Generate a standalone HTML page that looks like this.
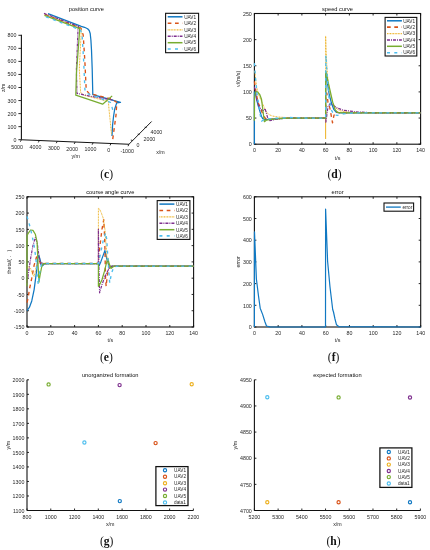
<!DOCTYPE html>
<html><head><meta charset="utf-8"><title>figure</title>
<style>
html,body{margin:0;padding:0;background:#fff;}
body{width:430px;height:550px;overflow:hidden;}
svg{display:block;font-family:"Liberation Sans","DejaVu Sans",sans-serif;}
.cap{font-family:"Liberation Serif","DejaVu Serif",serif;}
</style></head><body>
<svg width="430" height="550" viewBox="0 0 430 550">
<rect width="430" height="550" fill="#fff"/>
<line x1="21.40" y1="34.80" x2="21.40" y2="139.70" stroke="#111" stroke-width="1.1" />
<line x1="21.40" y1="139.70" x2="18.40" y2="139.70" stroke="#111" stroke-width="0.9" />
<text x="16.40" y="142" font-size="5.3" text-anchor="end" fill="#262626" >0</text>
<line x1="21.40" y1="126.65" x2="18.40" y2="126.65" stroke="#111" stroke-width="0.9" />
<text x="16.40" y="129" font-size="5.3" text-anchor="end" fill="#262626" >100</text>
<line x1="21.40" y1="113.60" x2="18.40" y2="113.60" stroke="#111" stroke-width="0.9" />
<text x="16.40" y="116" font-size="5.3" text-anchor="end" fill="#262626" >200</text>
<line x1="21.40" y1="100.55" x2="18.40" y2="100.55" stroke="#111" stroke-width="0.9" />
<text x="16.40" y="103" font-size="5.3" text-anchor="end" fill="#262626" >300</text>
<line x1="21.40" y1="87.50" x2="18.40" y2="87.50" stroke="#111" stroke-width="0.9" />
<text x="16.40" y="89" font-size="5.3" text-anchor="end" fill="#262626" >400</text>
<line x1="21.40" y1="74.45" x2="18.40" y2="74.45" stroke="#111" stroke-width="0.9" />
<text x="16.40" y="76" font-size="5.3" text-anchor="end" fill="#262626" >500</text>
<line x1="21.40" y1="61.40" x2="18.40" y2="61.40" stroke="#111" stroke-width="0.9" />
<text x="16.40" y="63" font-size="5.3" text-anchor="end" fill="#262626" >600</text>
<line x1="21.40" y1="48.35" x2="18.40" y2="48.35" stroke="#111" stroke-width="0.9" />
<text x="16.40" y="50" font-size="5.3" text-anchor="end" fill="#262626" >700</text>
<line x1="21.40" y1="35.30" x2="18.40" y2="35.30" stroke="#111" stroke-width="0.9" />
<text x="16.40" y="37" font-size="5.3" text-anchor="end" fill="#262626" >800</text>
<line x1="21.40" y1="139.70" x2="129.00" y2="144.20" stroke="#111" stroke-width="1.1" />
<line x1="21.40" y1="139.70" x2="20.40" y2="141.70" stroke="#111" stroke-width="0.9" />
<text x="17.10" y="149" font-size="5.3" text-anchor="middle" fill="#262626" >5000</text>
<line x1="39.33" y1="140.45" x2="38.33" y2="142.45" stroke="#111" stroke-width="0.9" />
<text x="35.45" y="149" font-size="5.3" text-anchor="middle" fill="#262626" >4000</text>
<line x1="57.27" y1="141.20" x2="56.27" y2="143.20" stroke="#111" stroke-width="0.9" />
<text x="53.80" y="150" font-size="5.3" text-anchor="middle" fill="#262626" >3000</text>
<line x1="75.20" y1="141.95" x2="74.20" y2="143.95" stroke="#111" stroke-width="0.9" />
<text x="72.15" y="151" font-size="5.3" text-anchor="middle" fill="#262626" >2000</text>
<line x1="93.13" y1="142.70" x2="92.13" y2="144.70" stroke="#111" stroke-width="0.9" />
<text x="90.50" y="151" font-size="5.3" text-anchor="middle" fill="#262626" >1000</text>
<line x1="111.07" y1="143.45" x2="110.07" y2="145.45" stroke="#111" stroke-width="0.9" />
<text x="108.85" y="152" font-size="5.3" text-anchor="middle" fill="#262626" >0</text>
<line x1="129.00" y1="144.20" x2="128.00" y2="146.20" stroke="#111" stroke-width="0.9" />
<text x="127.20" y="153" font-size="5.3" text-anchor="middle" fill="#262626" >-1000</text>
<line x1="129.00" y1="144.20" x2="151.60" y2="121.50" stroke="#111" stroke-width="0.95" />
<line x1="132.60" y1="140.40" x2="130.80" y2="140.10" stroke="#111" stroke-width="0.9" />
<text x="136.60" y="147" font-size="5.3" text-anchor="start" fill="#262626" >0</text>
<line x1="139.50" y1="134.40" x2="137.70" y2="134.10" stroke="#111" stroke-width="0.9" />
<text x="143.50" y="141" font-size="5.3" text-anchor="start" fill="#262626" >2000</text>
<line x1="146.50" y1="127.50" x2="144.70" y2="127.20" stroke="#111" stroke-width="0.9" />
<text x="150.50" y="134" font-size="5.3" text-anchor="start" fill="#262626" >4000</text>
<text x="75.70" y="158" font-size="5.3" text-anchor="middle" fill="#262626" >y/m</text>
<text x="160.50" y="154" font-size="5.3" text-anchor="middle" fill="#262626" >x/m</text>
<text transform="translate(4.9,87.8) rotate(-90)" font-size="5.3" text-anchor="middle" fill="#262626">z/m</text>
<text x="86.30" y="11" font-size="5.7" text-anchor="middle" fill="#111" >position curve</text>
<polyline points="48.00,13.60 81.30,26.30 84.50,27.30 87.60,28.80 89.20,30.50 90.20,33.50 90.90,40.00 91.50,50.00 92.20,69.00 92.80,94.60 120.50,102.30 116.70,102.90 114.80,108.70 113.60,116.00 112.60,124.90 112.00,136.00" fill="none" stroke="#1078C2" stroke-width="1.25"  stroke-linejoin="round" />
<polyline points="45.00,14.50 81.00,28.10 83.20,35.00 84.80,60.00 86.20,90.00 89.00,93.40 112.20,99.20 116.80,102.50 116.00,115.10 112.70,139.50" fill="none" stroke="#D95319" stroke-width="1.35" stroke-dasharray="3.7 3.6" stroke-linejoin="round" />
<polyline points="44.50,14.80 80.80,28.50 81.30,30.50 79.30,69.00 80.60,92.40 84.00,95.20 108.40,101.60 109.00,109.30 111.60,134.70" fill="none" stroke="#EDB120" stroke-width="1.0" stroke-dasharray="0.9 0.65" stroke-linejoin="round" />
<polyline points="44.00,13.40 78.60,26.50 78.00,29.80 76.40,69.00 77.00,93.30 90.00,96.20 112.80,100.00" fill="none" stroke="#7E2F8E" stroke-width="1.2" stroke-dasharray="3.0 1.0 1.0 1.0" stroke-linejoin="round" />
<polyline points="44.50,15.40 79.60,28.70 79.60,31.00 76.40,74.00 75.80,95.20 102.60,104.20 112.20,95.90" fill="none" stroke="#77AC30" stroke-width="1.25"  stroke-linejoin="round" />
<polyline points="46.00,16.90 80.50,29.90 82.10,35.00 83.60,60.00 84.90,89.50 86.00,93.00 110.30,102.30 111.60,105.50 113.00,111.00" fill="none" stroke="#4DBEEE" stroke-width="1.35" stroke-dasharray="3.0 4.3" stroke-linejoin="round" />
<rect x="165.60" y="13.30" width="33.00" height="39.40" fill="#fff" stroke="#111" stroke-width="1.1"/>
<polyline points="167.70,16.80 182.50,16.80" fill="none" stroke="#1078C2" stroke-width="1.5"  stroke-linejoin="round" />
<text x="184.20" y="19" font-size="4.7" text-anchor="start" fill="#262626" >UAV1</text>
<polyline points="167.70,23.30 182.50,23.30" fill="none" stroke="#D95319" stroke-width="1.6" stroke-dasharray="3.7 3.6" stroke-linejoin="round" />
<text x="184.20" y="25" font-size="4.7" text-anchor="start" fill="#262626" >UAV2</text>
<polyline points="167.70,29.80 182.50,29.80" fill="none" stroke="#EDB120" stroke-width="1.25" stroke-dasharray="0.9 0.65" stroke-linejoin="round" />
<text x="184.20" y="32" font-size="4.7" text-anchor="start" fill="#262626" >UAV3</text>
<polyline points="167.70,36.30 182.50,36.30" fill="none" stroke="#7E2F8E" stroke-width="1.45" stroke-dasharray="3.0 1.0 1.0 1.0" stroke-linejoin="round" />
<text x="184.20" y="38" font-size="4.7" text-anchor="start" fill="#262626" >UAV4</text>
<polyline points="167.70,42.70 182.50,42.70" fill="none" stroke="#77AC30" stroke-width="1.5"  stroke-linejoin="round" />
<text x="184.20" y="44" font-size="4.7" text-anchor="start" fill="#262626" >UAV5</text>
<polyline points="167.70,49.00 182.50,49.00" fill="none" stroke="#4DBEEE" stroke-width="1.6" stroke-dasharray="3.0 4.3" stroke-linejoin="round" />
<text x="184.20" y="51" font-size="4.7" text-anchor="start" fill="#262626" >UAV6</text>
<text x="106.70" y="178.40" font-size="11.6" text-anchor="middle" fill="#111" class="cap">(<tspan font-weight="bold">c</tspan>)</text>
<rect x="254.40" y="13.50" width="166.20" height="130.70" fill="none" stroke="#111" stroke-width="1.1"/>
<line x1="254.40" y1="144.20" x2="254.40" y2="142.20" stroke="#111" stroke-width="0.9" />
<line x1="254.40" y1="13.50" x2="254.40" y2="15.50" stroke="#111" stroke-width="0.9" />
<text x="254.40" y="152" font-size="5.3" text-anchor="middle" fill="#262626" >0</text>
<line x1="278.14" y1="144.20" x2="278.14" y2="142.20" stroke="#111" stroke-width="0.9" />
<line x1="278.14" y1="13.50" x2="278.14" y2="15.50" stroke="#111" stroke-width="0.9" />
<text x="278.14" y="152" font-size="5.3" text-anchor="middle" fill="#262626" >20</text>
<line x1="301.89" y1="144.20" x2="301.89" y2="142.20" stroke="#111" stroke-width="0.9" />
<line x1="301.89" y1="13.50" x2="301.89" y2="15.50" stroke="#111" stroke-width="0.9" />
<text x="301.89" y="152" font-size="5.3" text-anchor="middle" fill="#262626" >40</text>
<line x1="325.63" y1="144.20" x2="325.63" y2="142.20" stroke="#111" stroke-width="0.9" />
<line x1="325.63" y1="13.50" x2="325.63" y2="15.50" stroke="#111" stroke-width="0.9" />
<text x="325.63" y="152" font-size="5.3" text-anchor="middle" fill="#262626" >60</text>
<line x1="349.37" y1="144.20" x2="349.37" y2="142.20" stroke="#111" stroke-width="0.9" />
<line x1="349.37" y1="13.50" x2="349.37" y2="15.50" stroke="#111" stroke-width="0.9" />
<text x="349.37" y="152" font-size="5.3" text-anchor="middle" fill="#262626" >80</text>
<line x1="373.11" y1="144.20" x2="373.11" y2="142.20" stroke="#111" stroke-width="0.9" />
<line x1="373.11" y1="13.50" x2="373.11" y2="15.50" stroke="#111" stroke-width="0.9" />
<text x="373.11" y="152" font-size="5.3" text-anchor="middle" fill="#262626" >100</text>
<line x1="396.86" y1="144.20" x2="396.86" y2="142.20" stroke="#111" stroke-width="0.9" />
<line x1="396.86" y1="13.50" x2="396.86" y2="15.50" stroke="#111" stroke-width="0.9" />
<text x="396.86" y="152" font-size="5.3" text-anchor="middle" fill="#262626" >120</text>
<line x1="420.60" y1="144.20" x2="420.60" y2="142.20" stroke="#111" stroke-width="0.9" />
<line x1="420.60" y1="13.50" x2="420.60" y2="15.50" stroke="#111" stroke-width="0.9" />
<text x="420.60" y="152" font-size="5.3" text-anchor="middle" fill="#262626" >140</text>
<line x1="254.40" y1="144.20" x2="256.40" y2="144.20" stroke="#111" stroke-width="0.9" />
<line x1="420.60" y1="144.20" x2="418.60" y2="144.20" stroke="#111" stroke-width="0.9" />
<text x="251.80" y="146" font-size="5.3" text-anchor="end" fill="#262626" >0</text>
<line x1="254.40" y1="118.06" x2="256.40" y2="118.06" stroke="#111" stroke-width="0.9" />
<line x1="420.60" y1="118.06" x2="418.60" y2="118.06" stroke="#111" stroke-width="0.9" />
<text x="251.80" y="120" font-size="5.3" text-anchor="end" fill="#262626" >50</text>
<line x1="254.40" y1="91.92" x2="256.40" y2="91.92" stroke="#111" stroke-width="0.9" />
<line x1="420.60" y1="91.92" x2="418.60" y2="91.92" stroke="#111" stroke-width="0.9" />
<text x="251.80" y="94" font-size="5.3" text-anchor="end" fill="#262626" >100</text>
<line x1="254.40" y1="65.78" x2="256.40" y2="65.78" stroke="#111" stroke-width="0.9" />
<line x1="420.60" y1="65.78" x2="418.60" y2="65.78" stroke="#111" stroke-width="0.9" />
<text x="251.80" y="68" font-size="5.3" text-anchor="end" fill="#262626" >150</text>
<line x1="254.40" y1="39.64" x2="256.40" y2="39.64" stroke="#111" stroke-width="0.9" />
<line x1="420.60" y1="39.64" x2="418.60" y2="39.64" stroke="#111" stroke-width="0.9" />
<text x="251.80" y="42" font-size="5.3" text-anchor="end" fill="#262626" >200</text>
<line x1="254.40" y1="13.50" x2="256.40" y2="13.50" stroke="#111" stroke-width="0.9" />
<line x1="420.60" y1="13.50" x2="418.60" y2="13.50" stroke="#111" stroke-width="0.9" />
<text x="251.80" y="16" font-size="5.3" text-anchor="end" fill="#262626" >250</text>
<text x="337.50" y="160" font-size="5.3" text-anchor="middle" fill="#262626" >t/s</text>
<text x="337.50" y="11" font-size="5.7" text-anchor="middle" fill="#111" >speed curve</text>
<text transform="translate(240.20,78.85) rotate(-90)" font-size="5.3" text-anchor="middle" fill="#262626">v/(m/s)</text>
<polyline points="254.40,144.20 254.40,91.92 255.59,94.53 256.77,99.76 257.96,104.99 259.15,108.65 260.34,112.83 261.52,116.49 262.71,118.58 264.49,119.63 268.65,119.37 278.14,118.58 290.01,118.06 325.63,118.06 325.75,73.62 326.82,78.85 328.00,86.69 329.19,94.53 331.56,103.42 333.94,109.70 336.31,112.31 339.87,112.83 420.60,112.83" fill="none" stroke="#1078C2" stroke-width="1.25"  stroke-linejoin="round" />
<line x1="325.63" y1="138.97" x2="325.63" y2="81.46" stroke="#EDB120" stroke-width="1.0"/>
<polyline points="254.40,81.46 255.59,89.31 256.77,96.10 257.96,102.38 260.34,107.60 262.71,113.88 265.08,118.06 267.46,120.15 271.02,119.37 278.14,118.58 290.01,118.06 325.63,118.06 325.87,94.53 326.82,92.97 328.00,102.38 329.78,107.60 332.51,122.77 333.94,115.45 335.72,111.79 339.87,112.83 420.60,112.83" fill="none" stroke="#D95319" stroke-width="1.35" stroke-dasharray="3.7 3.6" stroke-linejoin="round" />
<polyline points="254.40,71.01 254.99,72.05 255.59,78.85 256.77,87.74 259.15,96.10 261.52,101.33 263.90,106.56 266.27,111.79 268.65,114.40 272.21,115.97 278.14,117.01 290.01,117.80 325.51,118.06" fill="none" stroke="#EDB120" stroke-width="1.0" stroke-dasharray="0.9 0.65" stroke-linejoin="round" />
<polyline points="325.63,81.46 325.63,35.98 326.10,50.10 326.82,65.78 328.00,81.46 330.38,94.53 332.75,102.38 335.13,107.60 339.87,110.74 349.37,112.31 373.11,112.83 420.60,112.83" fill="none" stroke="#EDB120" stroke-width="1.0" stroke-dasharray="0.9 0.65" stroke-linejoin="round" />
<polyline points="254.40,86.69 255.59,91.92 256.77,99.76 259.15,106.56 261.52,109.70 263.90,110.74 265.08,108.65 266.27,112.83 268.05,119.11 269.83,120.67 273.39,119.89 278.14,118.84 290.01,118.06 325.63,118.06 325.87,122.24 326.82,115.45 328.00,106.56 330.38,103.42 332.75,104.99 337.50,108.13 343.44,110.22 355.31,111.79 373.11,112.83 420.60,112.83" fill="none" stroke="#7E2F8E" stroke-width="1.2" stroke-dasharray="3.0 1.0 1.0 1.0" stroke-linejoin="round" />
<polyline points="254.40,120.67 254.52,97.15 255.59,91.92 257.37,91.92 259.74,94.53 261.52,99.24 263.07,111.79 264.37,121.72 266.27,120.15 271.02,119.37 278.14,118.58 290.01,118.06 325.63,118.06 325.75,71.01 326.82,75.19 328.00,81.46 330.38,91.92 332.75,102.38 335.13,109.70 337.50,112.31 343.44,112.83 420.60,112.83" fill="none" stroke="#77AC30" stroke-width="1.25"  stroke-linejoin="round" />
<polyline points="254.40,63.17 254.99,71.01 255.59,78.85 256.77,91.92 257.96,99.76 259.15,107.60 260.34,115.45 261.52,121.20 263.90,119.63 268.65,118.84 278.14,118.06 290.01,117.54 307.82,118.06 325.63,118.06 325.87,55.32 326.82,71.01 328.00,86.69 329.19,99.76 331.56,110.22 333.94,114.92 337.50,115.45 343.44,113.88 355.31,112.83 420.60,112.83" fill="none" stroke="#4DBEEE" stroke-width="1.35" stroke-dasharray="3.0 4.3" stroke-linejoin="round" />
<rect x="385.10" y="17.40" width="31.70" height="38.60" fill="#fff" stroke="#111" stroke-width="1.1"/>
<polyline points="387.00,20.80 401.90,20.80" fill="none" stroke="#1078C2" stroke-width="1.5"  stroke-linejoin="round" />
<text x="403.20" y="23" font-size="4.7" text-anchor="start" fill="#262626" >UAV1</text>
<polyline points="387.00,27.10 401.90,27.10" fill="none" stroke="#D95319" stroke-width="1.6" stroke-dasharray="3.7 3.6" stroke-linejoin="round" />
<text x="403.20" y="29" font-size="4.7" text-anchor="start" fill="#262626" >UAV2</text>
<polyline points="387.00,33.50 401.90,33.50" fill="none" stroke="#EDB120" stroke-width="1.25" stroke-dasharray="0.9 0.65" stroke-linejoin="round" />
<text x="403.20" y="35" font-size="4.7" text-anchor="start" fill="#262626" >UAV3</text>
<polyline points="387.00,40.00 401.90,40.00" fill="none" stroke="#7E2F8E" stroke-width="1.45" stroke-dasharray="3.0 1.0 1.0 1.0" stroke-linejoin="round" />
<text x="403.20" y="42" font-size="4.7" text-anchor="start" fill="#262626" >UAV4</text>
<polyline points="387.00,46.30 401.90,46.30" fill="none" stroke="#77AC30" stroke-width="1.5"  stroke-linejoin="round" />
<text x="403.20" y="48" font-size="4.7" text-anchor="start" fill="#262626" >UAV5</text>
<polyline points="387.00,52.70 401.90,52.70" fill="none" stroke="#4DBEEE" stroke-width="1.6" stroke-dasharray="3.0 4.3" stroke-linejoin="round" />
<text x="403.20" y="54" font-size="4.7" text-anchor="start" fill="#262626" >UAV6</text>
<text x="334.60" y="178.40" font-size="11.6" text-anchor="middle" fill="#111" class="cap">(<tspan font-weight="bold">d</tspan>)</text>
<rect x="27.00" y="196.80" width="166.60" height="130.20" fill="none" stroke="#111" stroke-width="1.1"/>
<line x1="27.00" y1="327.00" x2="27.00" y2="325.00" stroke="#111" stroke-width="0.9" />
<line x1="27.00" y1="196.80" x2="27.00" y2="198.80" stroke="#111" stroke-width="0.9" />
<text x="27.00" y="335" font-size="5.3" text-anchor="middle" fill="#262626" >0</text>
<line x1="50.80" y1="327.00" x2="50.80" y2="325.00" stroke="#111" stroke-width="0.9" />
<line x1="50.80" y1="196.80" x2="50.80" y2="198.80" stroke="#111" stroke-width="0.9" />
<text x="50.80" y="335" font-size="5.3" text-anchor="middle" fill="#262626" >20</text>
<line x1="74.60" y1="327.00" x2="74.60" y2="325.00" stroke="#111" stroke-width="0.9" />
<line x1="74.60" y1="196.80" x2="74.60" y2="198.80" stroke="#111" stroke-width="0.9" />
<text x="74.60" y="335" font-size="5.3" text-anchor="middle" fill="#262626" >40</text>
<line x1="98.40" y1="327.00" x2="98.40" y2="325.00" stroke="#111" stroke-width="0.9" />
<line x1="98.40" y1="196.80" x2="98.40" y2="198.80" stroke="#111" stroke-width="0.9" />
<text x="98.40" y="335" font-size="5.3" text-anchor="middle" fill="#262626" >60</text>
<line x1="122.20" y1="327.00" x2="122.20" y2="325.00" stroke="#111" stroke-width="0.9" />
<line x1="122.20" y1="196.80" x2="122.20" y2="198.80" stroke="#111" stroke-width="0.9" />
<text x="122.20" y="335" font-size="5.3" text-anchor="middle" fill="#262626" >80</text>
<line x1="146.00" y1="327.00" x2="146.00" y2="325.00" stroke="#111" stroke-width="0.9" />
<line x1="146.00" y1="196.80" x2="146.00" y2="198.80" stroke="#111" stroke-width="0.9" />
<text x="146.00" y="335" font-size="5.3" text-anchor="middle" fill="#262626" >100</text>
<line x1="169.80" y1="327.00" x2="169.80" y2="325.00" stroke="#111" stroke-width="0.9" />
<line x1="169.80" y1="196.80" x2="169.80" y2="198.80" stroke="#111" stroke-width="0.9" />
<text x="169.80" y="335" font-size="5.3" text-anchor="middle" fill="#262626" >120</text>
<line x1="193.60" y1="327.00" x2="193.60" y2="325.00" stroke="#111" stroke-width="0.9" />
<line x1="193.60" y1="196.80" x2="193.60" y2="198.80" stroke="#111" stroke-width="0.9" />
<text x="193.60" y="335" font-size="5.3" text-anchor="middle" fill="#262626" >140</text>
<line x1="27.00" y1="327.00" x2="29.00" y2="327.00" stroke="#111" stroke-width="0.9" />
<line x1="193.60" y1="327.00" x2="191.60" y2="327.00" stroke="#111" stroke-width="0.9" />
<text x="24.40" y="329" font-size="5.3" text-anchor="end" fill="#262626" >-150</text>
<line x1="27.00" y1="310.73" x2="29.00" y2="310.73" stroke="#111" stroke-width="0.9" />
<line x1="193.60" y1="310.73" x2="191.60" y2="310.73" stroke="#111" stroke-width="0.9" />
<text x="24.40" y="313" font-size="5.3" text-anchor="end" fill="#262626" >-100</text>
<line x1="27.00" y1="294.45" x2="29.00" y2="294.45" stroke="#111" stroke-width="0.9" />
<line x1="193.60" y1="294.45" x2="191.60" y2="294.45" stroke="#111" stroke-width="0.9" />
<text x="24.40" y="297" font-size="5.3" text-anchor="end" fill="#262626" >-50</text>
<line x1="27.00" y1="278.18" x2="29.00" y2="278.18" stroke="#111" stroke-width="0.9" />
<line x1="193.60" y1="278.18" x2="191.60" y2="278.18" stroke="#111" stroke-width="0.9" />
<text x="24.40" y="280" font-size="5.3" text-anchor="end" fill="#262626" >0</text>
<line x1="27.00" y1="261.90" x2="29.00" y2="261.90" stroke="#111" stroke-width="0.9" />
<line x1="193.60" y1="261.90" x2="191.60" y2="261.90" stroke="#111" stroke-width="0.9" />
<text x="24.40" y="264" font-size="5.3" text-anchor="end" fill="#262626" >50</text>
<line x1="27.00" y1="245.62" x2="29.00" y2="245.62" stroke="#111" stroke-width="0.9" />
<line x1="193.60" y1="245.62" x2="191.60" y2="245.62" stroke="#111" stroke-width="0.9" />
<text x="24.40" y="248" font-size="5.3" text-anchor="end" fill="#262626" >100</text>
<line x1="27.00" y1="229.35" x2="29.00" y2="229.35" stroke="#111" stroke-width="0.9" />
<line x1="193.60" y1="229.35" x2="191.60" y2="229.35" stroke="#111" stroke-width="0.9" />
<text x="24.40" y="232" font-size="5.3" text-anchor="end" fill="#262626" >150</text>
<line x1="27.00" y1="213.08" x2="29.00" y2="213.08" stroke="#111" stroke-width="0.9" />
<line x1="193.60" y1="213.08" x2="191.60" y2="213.08" stroke="#111" stroke-width="0.9" />
<text x="24.40" y="215" font-size="5.3" text-anchor="end" fill="#262626" >200</text>
<line x1="27.00" y1="196.80" x2="29.00" y2="196.80" stroke="#111" stroke-width="0.9" />
<line x1="193.60" y1="196.80" x2="191.60" y2="196.80" stroke="#111" stroke-width="0.9" />
<text x="24.40" y="199" font-size="5.3" text-anchor="end" fill="#262626" >250</text>
<text x="110.30" y="342" font-size="5.3" text-anchor="middle" fill="#262626" >t/s</text>
<text x="110.30" y="194" font-size="5.7" text-anchor="middle" fill="#111" >course angle curve</text>
<text transform="translate(10.90,261.90) rotate(-90)" font-size="5.3" text-anchor="middle" fill="#262626">theta/(&#160;.&#160;&#160;&#160;)</text>
<polyline points="27.00,310.73 29.38,307.47 31.76,300.96 34.14,289.57 36.52,271.67 37.71,258.64 38.90,255.39 40.69,261.90 42.47,265.81 44.85,263.53 98.40,263.53 98.99,266.13 100.78,261.90 103.16,255.39 104.94,250.51 106.73,258.64 109.11,266.46 112.68,266.13 193.60,266.13" fill="none" stroke="#1078C2" stroke-width="1.25"  stroke-linejoin="round" />
<polyline points="27.00,302.59 28.19,297.70 29.38,289.57 31.76,278.18 34.14,265.16 36.52,257.02 38.30,258.64 40.09,262.55 42.47,263.53 98.40,263.53 99.59,248.88 101.97,229.35 103.75,219.59 104.71,239.12 105.54,278.18 106.13,286.31 107.33,274.92 109.11,266.78 112.68,266.13 193.60,266.13" fill="none" stroke="#D95319" stroke-width="1.35" stroke-dasharray="3.7 3.6" stroke-linejoin="round" />
<polyline points="27.00,268.41 28.19,266.78 30.57,268.41 32.95,274.92 34.14,276.55 35.33,271.67 36.52,265.16 38.90,263.53 98.40,263.53 98.40,208.19 99.59,209.17 101.38,213.08 103.16,217.96 104.94,229.35 106.13,245.62 107.33,261.90 109.11,266.13 193.60,266.13" fill="none" stroke="#EDB120" stroke-width="1.0" stroke-dasharray="0.9 0.65" stroke-linejoin="round" />
<polyline points="27.00,283.06 28.19,274.92 30.57,258.64 32.95,245.62 35.33,237.49 37.12,242.37 38.90,255.39 40.69,264.50 42.47,263.20 44.85,263.53 98.28,263.53 98.40,229.35 98.76,261.90 99.59,292.82 101.97,284.69 105.54,274.92 109.11,268.41 112.68,266.13 193.60,266.13" fill="none" stroke="#7E2F8E" stroke-width="1.2" stroke-dasharray="3.0 1.0 1.0 1.0" stroke-linejoin="round" />
<polyline points="27.00,286.31 27.00,235.86 28.19,233.26 30.57,230.00 32.95,230.33 35.33,234.23 37.12,242.37 38.07,265.16 38.90,282.08 40.09,274.92 41.88,265.81 43.66,263.53 98.40,263.53 98.40,286.31 99.59,284.69 101.97,279.80 104.35,271.67 106.73,261.90 107.92,258.64 109.11,263.53 110.89,268.41 113.87,266.13 193.60,266.13" fill="none" stroke="#77AC30" stroke-width="1.25"  stroke-linejoin="round" />
<polyline points="27.00,216.33 29.38,224.47 31.76,234.23 34.14,245.62 35.92,258.64 37.12,274.92 38.30,284.69 39.49,273.29 41.28,264.50 43.66,263.53 98.40,263.53 100.78,252.13 103.16,240.74 105.54,232.61 106.73,239.12 107.92,258.64 109.70,283.06 111.49,273.29 113.87,266.78 117.44,266.13 193.60,266.13" fill="none" stroke="#4DBEEE" stroke-width="1.35" stroke-dasharray="3.0 4.3" stroke-linejoin="round" />
<rect x="157.20" y="200.60" width="32.70" height="38.80" fill="#fff" stroke="#111" stroke-width="1.1"/>
<polyline points="159.40,204.10 174.40,204.10" fill="none" stroke="#1078C2" stroke-width="1.5"  stroke-linejoin="round" />
<text x="176.00" y="206" font-size="4.7" text-anchor="start" fill="#262626" >UAV1</text>
<polyline points="159.40,210.50 174.40,210.50" fill="none" stroke="#D95319" stroke-width="1.6" stroke-dasharray="3.7 3.6" stroke-linejoin="round" />
<text x="176.00" y="212" font-size="4.7" text-anchor="start" fill="#262626" >UAV2</text>
<polyline points="159.40,216.90 174.40,216.90" fill="none" stroke="#EDB120" stroke-width="1.25" stroke-dasharray="0.9 0.65" stroke-linejoin="round" />
<text x="176.00" y="219" font-size="4.7" text-anchor="start" fill="#262626" >UAV3</text>
<polyline points="159.40,223.30 174.40,223.30" fill="none" stroke="#7E2F8E" stroke-width="1.45" stroke-dasharray="3.0 1.0 1.0 1.0" stroke-linejoin="round" />
<text x="176.00" y="225" font-size="4.7" text-anchor="start" fill="#262626" >UAV4</text>
<polyline points="159.40,229.70 174.40,229.70" fill="none" stroke="#77AC30" stroke-width="1.5"  stroke-linejoin="round" />
<text x="176.00" y="232" font-size="4.7" text-anchor="start" fill="#262626" >UAV5</text>
<polyline points="159.40,235.90 174.40,235.90" fill="none" stroke="#4DBEEE" stroke-width="1.6" stroke-dasharray="3.0 4.3" stroke-linejoin="round" />
<text x="176.00" y="238" font-size="4.7" text-anchor="start" fill="#262626" >UAV6</text>
<text x="106.40" y="361.20" font-size="11.6" text-anchor="middle" fill="#111" class="cap">(<tspan font-weight="bold">e</tspan>)</text>
<rect x="254.40" y="196.80" width="166.30" height="130.20" fill="none" stroke="#111" stroke-width="1.1"/>
<line x1="254.40" y1="327.00" x2="254.40" y2="325.00" stroke="#111" stroke-width="0.9" />
<line x1="254.40" y1="196.80" x2="254.40" y2="198.80" stroke="#111" stroke-width="0.9" />
<text x="254.40" y="335" font-size="5.3" text-anchor="middle" fill="#262626" >0</text>
<line x1="278.16" y1="327.00" x2="278.16" y2="325.00" stroke="#111" stroke-width="0.9" />
<line x1="278.16" y1="196.80" x2="278.16" y2="198.80" stroke="#111" stroke-width="0.9" />
<text x="278.16" y="335" font-size="5.3" text-anchor="middle" fill="#262626" >20</text>
<line x1="301.91" y1="327.00" x2="301.91" y2="325.00" stroke="#111" stroke-width="0.9" />
<line x1="301.91" y1="196.80" x2="301.91" y2="198.80" stroke="#111" stroke-width="0.9" />
<text x="301.91" y="335" font-size="5.3" text-anchor="middle" fill="#262626" >40</text>
<line x1="325.67" y1="327.00" x2="325.67" y2="325.00" stroke="#111" stroke-width="0.9" />
<line x1="325.67" y1="196.80" x2="325.67" y2="198.80" stroke="#111" stroke-width="0.9" />
<text x="325.67" y="335" font-size="5.3" text-anchor="middle" fill="#262626" >60</text>
<line x1="349.43" y1="327.00" x2="349.43" y2="325.00" stroke="#111" stroke-width="0.9" />
<line x1="349.43" y1="196.80" x2="349.43" y2="198.80" stroke="#111" stroke-width="0.9" />
<text x="349.43" y="335" font-size="5.3" text-anchor="middle" fill="#262626" >80</text>
<line x1="373.19" y1="327.00" x2="373.19" y2="325.00" stroke="#111" stroke-width="0.9" />
<line x1="373.19" y1="196.80" x2="373.19" y2="198.80" stroke="#111" stroke-width="0.9" />
<text x="373.19" y="335" font-size="5.3" text-anchor="middle" fill="#262626" >100</text>
<line x1="396.94" y1="327.00" x2="396.94" y2="325.00" stroke="#111" stroke-width="0.9" />
<line x1="396.94" y1="196.80" x2="396.94" y2="198.80" stroke="#111" stroke-width="0.9" />
<text x="396.94" y="335" font-size="5.3" text-anchor="middle" fill="#262626" >120</text>
<line x1="420.70" y1="327.00" x2="420.70" y2="325.00" stroke="#111" stroke-width="0.9" />
<line x1="420.70" y1="196.80" x2="420.70" y2="198.80" stroke="#111" stroke-width="0.9" />
<text x="420.70" y="335" font-size="5.3" text-anchor="middle" fill="#262626" >140</text>
<line x1="254.40" y1="327.00" x2="256.40" y2="327.00" stroke="#111" stroke-width="0.9" />
<line x1="420.70" y1="327.00" x2="418.70" y2="327.00" stroke="#111" stroke-width="0.9" />
<text x="251.80" y="329" font-size="5.3" text-anchor="end" fill="#262626" >0</text>
<line x1="254.40" y1="305.30" x2="256.40" y2="305.30" stroke="#111" stroke-width="0.9" />
<line x1="420.70" y1="305.30" x2="418.70" y2="305.30" stroke="#111" stroke-width="0.9" />
<text x="251.80" y="308" font-size="5.3" text-anchor="end" fill="#262626" >100</text>
<line x1="254.40" y1="283.60" x2="256.40" y2="283.60" stroke="#111" stroke-width="0.9" />
<line x1="420.70" y1="283.60" x2="418.70" y2="283.60" stroke="#111" stroke-width="0.9" />
<text x="251.80" y="286" font-size="5.3" text-anchor="end" fill="#262626" >200</text>
<line x1="254.40" y1="261.90" x2="256.40" y2="261.90" stroke="#111" stroke-width="0.9" />
<line x1="420.70" y1="261.90" x2="418.70" y2="261.90" stroke="#111" stroke-width="0.9" />
<text x="251.80" y="264" font-size="5.3" text-anchor="end" fill="#262626" >300</text>
<line x1="254.40" y1="240.20" x2="256.40" y2="240.20" stroke="#111" stroke-width="0.9" />
<line x1="420.70" y1="240.20" x2="418.70" y2="240.20" stroke="#111" stroke-width="0.9" />
<text x="251.80" y="242" font-size="5.3" text-anchor="end" fill="#262626" >400</text>
<line x1="254.40" y1="218.50" x2="256.40" y2="218.50" stroke="#111" stroke-width="0.9" />
<line x1="420.70" y1="218.50" x2="418.70" y2="218.50" stroke="#111" stroke-width="0.9" />
<text x="251.80" y="221" font-size="5.3" text-anchor="end" fill="#262626" >500</text>
<line x1="254.40" y1="196.80" x2="256.40" y2="196.80" stroke="#111" stroke-width="0.9" />
<line x1="420.70" y1="196.80" x2="418.70" y2="196.80" stroke="#111" stroke-width="0.9" />
<text x="251.80" y="199" font-size="5.3" text-anchor="end" fill="#262626" >600</text>
<text x="337.55" y="342" font-size="5.3" text-anchor="middle" fill="#262626" >t/s</text>
<text x="337.55" y="194" font-size="5.7" text-anchor="middle" fill="#111" >error</text>
<text transform="translate(240.20,261.90) rotate(-90)" font-size="5.3" text-anchor="middle" fill="#262626">error</text>
<polyline points="254.40,327.00 254.50,231.90 256.40,279.00 258.50,296.00 260.20,308.20 262.70,314.60 265.00,322.00 266.50,326.00 270.00,326.80 325.50,327.00 325.60,209.00 327.60,261.20 330.00,287.00 332.70,309.50 333.50,312.00 335.00,319.00 336.50,324.80 339.00,326.70 420.60,327.00" fill="none" stroke="#1078C2" stroke-width="1.2"  stroke-linejoin="round" />
<rect x="384" y="203" width="29.6" height="8.2" fill="#fff" stroke="#111" stroke-width="1.1"/>
<polyline points="386.00,207.10 400.80,207.10" fill="none" stroke="#1078C2" stroke-width="1.3"  stroke-linejoin="round" />
<text x="402.40" y="209" font-size="4.7" text-anchor="start" fill="#262626" >error</text>
<text x="333.60" y="361.20" font-size="11.6" text-anchor="middle" fill="#111" class="cap">(<tspan font-weight="bold">f</tspan>)</text>
<line x1="27.00" y1="379.80" x2="27.00" y2="510.50" stroke="#111" stroke-width="1.1" />
<line x1="27.00" y1="510.50" x2="193.40" y2="510.50" stroke="#111" stroke-width="1.1" />
<line x1="27.00" y1="510.50" x2="27.00" y2="508.50" stroke="#111" stroke-width="0.9" />
<text x="27.00" y="519" font-size="5.3" text-anchor="middle" fill="#262626" >800</text>
<line x1="50.77" y1="510.50" x2="50.77" y2="508.50" stroke="#111" stroke-width="0.9" />
<text x="50.77" y="519" font-size="5.3" text-anchor="middle" fill="#262626" >1000</text>
<line x1="74.54" y1="510.50" x2="74.54" y2="508.50" stroke="#111" stroke-width="0.9" />
<text x="74.54" y="519" font-size="5.3" text-anchor="middle" fill="#262626" >1200</text>
<line x1="98.31" y1="510.50" x2="98.31" y2="508.50" stroke="#111" stroke-width="0.9" />
<text x="98.31" y="519" font-size="5.3" text-anchor="middle" fill="#262626" >1400</text>
<line x1="122.09" y1="510.50" x2="122.09" y2="508.50" stroke="#111" stroke-width="0.9" />
<text x="122.09" y="519" font-size="5.3" text-anchor="middle" fill="#262626" >1600</text>
<line x1="145.86" y1="510.50" x2="145.86" y2="508.50" stroke="#111" stroke-width="0.9" />
<text x="145.86" y="519" font-size="5.3" text-anchor="middle" fill="#262626" >1800</text>
<line x1="169.63" y1="510.50" x2="169.63" y2="508.50" stroke="#111" stroke-width="0.9" />
<text x="169.63" y="519" font-size="5.3" text-anchor="middle" fill="#262626" >2000</text>
<line x1="193.40" y1="510.50" x2="193.40" y2="508.50" stroke="#111" stroke-width="0.9" />
<text x="193.40" y="519" font-size="5.3" text-anchor="middle" fill="#262626" >2200</text>
<line x1="27.00" y1="510.50" x2="29.00" y2="510.50" stroke="#111" stroke-width="0.9" />
<text x="24.40" y="513" font-size="5.3" text-anchor="end" fill="#262626" >1100</text>
<line x1="27.00" y1="495.98" x2="29.00" y2="495.98" stroke="#111" stroke-width="0.9" />
<text x="24.40" y="498" font-size="5.3" text-anchor="end" fill="#262626" >1200</text>
<line x1="27.00" y1="481.46" x2="29.00" y2="481.46" stroke="#111" stroke-width="0.9" />
<text x="24.40" y="484" font-size="5.3" text-anchor="end" fill="#262626" >1300</text>
<line x1="27.00" y1="466.93" x2="29.00" y2="466.93" stroke="#111" stroke-width="0.9" />
<text x="24.40" y="469" font-size="5.3" text-anchor="end" fill="#262626" >1400</text>
<line x1="27.00" y1="452.41" x2="29.00" y2="452.41" stroke="#111" stroke-width="0.9" />
<text x="24.40" y="455" font-size="5.3" text-anchor="end" fill="#262626" >1500</text>
<line x1="27.00" y1="437.89" x2="29.00" y2="437.89" stroke="#111" stroke-width="0.9" />
<text x="24.40" y="440" font-size="5.3" text-anchor="end" fill="#262626" >1600</text>
<line x1="27.00" y1="423.37" x2="29.00" y2="423.37" stroke="#111" stroke-width="0.9" />
<text x="24.40" y="426" font-size="5.3" text-anchor="end" fill="#262626" >1700</text>
<line x1="27.00" y1="408.84" x2="29.00" y2="408.84" stroke="#111" stroke-width="0.9" />
<text x="24.40" y="411" font-size="5.3" text-anchor="end" fill="#262626" >1800</text>
<line x1="27.00" y1="394.32" x2="29.00" y2="394.32" stroke="#111" stroke-width="0.9" />
<text x="24.40" y="397" font-size="5.3" text-anchor="end" fill="#262626" >1900</text>
<line x1="27.00" y1="379.80" x2="29.00" y2="379.80" stroke="#111" stroke-width="0.9" />
<text x="24.40" y="382" font-size="5.3" text-anchor="end" fill="#262626" >2000</text>
<text x="110.20" y="526" font-size="5.3" text-anchor="middle" fill="#262626" >x/m</text>
<text x="110.20" y="377" font-size="5.7" text-anchor="middle" fill="#111" >unorganized formation</text>
<text transform="translate(9.60,445.15) rotate(-90)" font-size="5.3" text-anchor="middle" fill="#262626">y/m</text>
<circle cx="48.60" cy="384.40" r="1.6" fill="none" stroke="#77AC30" stroke-width="1.15"/>
<circle cx="84.40" cy="442.50" r="1.6" fill="none" stroke="#4DBEEE" stroke-width="1.15"/>
<circle cx="119.60" cy="385.10" r="1.6" fill="none" stroke="#7E2F8E" stroke-width="1.15"/>
<circle cx="191.70" cy="384.30" r="1.6" fill="none" stroke="#EDB120" stroke-width="1.15"/>
<circle cx="155.60" cy="443.10" r="1.6" fill="none" stroke="#D95319" stroke-width="1.15"/>
<circle cx="119.80" cy="501.10" r="1.6" fill="none" stroke="#1078C2" stroke-width="1.15"/>
<rect x="155.90" y="466.60" width="32.10" height="39.00" fill="#fff" stroke="#111" stroke-width="1.25"/>
<circle cx="165.00" cy="470.30" r="1.6" fill="none" stroke="#1078C2" stroke-width="1.15"/>
<text x="174.10" y="472" font-size="4.7" text-anchor="start" fill="#262626" >UAV1</text>
<circle cx="165.00" cy="476.70" r="1.6" fill="none" stroke="#D95319" stroke-width="1.15"/>
<text x="174.10" y="478" font-size="4.7" text-anchor="start" fill="#262626" >UAV2</text>
<circle cx="165.00" cy="483.20" r="1.6" fill="none" stroke="#EDB120" stroke-width="1.15"/>
<text x="174.10" y="485" font-size="4.7" text-anchor="start" fill="#262626" >UAV3</text>
<circle cx="165.00" cy="489.60" r="1.6" fill="none" stroke="#7E2F8E" stroke-width="1.15"/>
<text x="174.10" y="491" font-size="4.7" text-anchor="start" fill="#262626" >UAV4</text>
<circle cx="165.00" cy="496.00" r="1.6" fill="none" stroke="#77AC30" stroke-width="1.15"/>
<text x="174.10" y="498" font-size="4.7" text-anchor="start" fill="#262626" >UAV5</text>
<circle cx="165.00" cy="502.40" r="1.6" fill="none" stroke="#4DBEEE" stroke-width="1.15"/>
<text x="174.10" y="504" font-size="4.7" text-anchor="start" fill="#262626" >data1</text>
<text x="106.70" y="544.70" font-size="11.6" text-anchor="middle" fill="#111" class="cap">(<tspan font-weight="bold">g</tspan>)</text>
<line x1="254.40" y1="379.80" x2="254.40" y2="510.50" stroke="#111" stroke-width="1.1" />
<line x1="254.40" y1="510.50" x2="420.40" y2="510.50" stroke="#111" stroke-width="1.1" />
<line x1="254.40" y1="510.50" x2="254.40" y2="508.50" stroke="#111" stroke-width="0.9" />
<text x="254.40" y="519" font-size="5.3" text-anchor="middle" fill="#262626" >5200</text>
<line x1="278.11" y1="510.50" x2="278.11" y2="508.50" stroke="#111" stroke-width="0.9" />
<text x="278.11" y="519" font-size="5.3" text-anchor="middle" fill="#262626" >5300</text>
<line x1="301.83" y1="510.50" x2="301.83" y2="508.50" stroke="#111" stroke-width="0.9" />
<text x="301.83" y="519" font-size="5.3" text-anchor="middle" fill="#262626" >5400</text>
<line x1="325.54" y1="510.50" x2="325.54" y2="508.50" stroke="#111" stroke-width="0.9" />
<text x="325.54" y="519" font-size="5.3" text-anchor="middle" fill="#262626" >5500</text>
<line x1="349.26" y1="510.50" x2="349.26" y2="508.50" stroke="#111" stroke-width="0.9" />
<text x="349.26" y="519" font-size="5.3" text-anchor="middle" fill="#262626" >5600</text>
<line x1="372.97" y1="510.50" x2="372.97" y2="508.50" stroke="#111" stroke-width="0.9" />
<text x="372.97" y="519" font-size="5.3" text-anchor="middle" fill="#262626" >5700</text>
<line x1="396.69" y1="510.50" x2="396.69" y2="508.50" stroke="#111" stroke-width="0.9" />
<text x="396.69" y="519" font-size="5.3" text-anchor="middle" fill="#262626" >5800</text>
<line x1="420.40" y1="510.50" x2="420.40" y2="508.50" stroke="#111" stroke-width="0.9" />
<text x="420.40" y="519" font-size="5.3" text-anchor="middle" fill="#262626" >5900</text>
<line x1="254.40" y1="510.50" x2="256.40" y2="510.50" stroke="#111" stroke-width="0.9" />
<text x="251.80" y="513" font-size="5.3" text-anchor="end" fill="#262626" >4700</text>
<line x1="254.40" y1="484.36" x2="256.40" y2="484.36" stroke="#111" stroke-width="0.9" />
<text x="251.80" y="487" font-size="5.3" text-anchor="end" fill="#262626" >4750</text>
<line x1="254.40" y1="458.22" x2="256.40" y2="458.22" stroke="#111" stroke-width="0.9" />
<text x="251.80" y="460" font-size="5.3" text-anchor="end" fill="#262626" >4800</text>
<line x1="254.40" y1="432.08" x2="256.40" y2="432.08" stroke="#111" stroke-width="0.9" />
<text x="251.80" y="434" font-size="5.3" text-anchor="end" fill="#262626" >4850</text>
<line x1="254.40" y1="405.94" x2="256.40" y2="405.94" stroke="#111" stroke-width="0.9" />
<text x="251.80" y="408" font-size="5.3" text-anchor="end" fill="#262626" >4900</text>
<line x1="254.40" y1="379.80" x2="256.40" y2="379.80" stroke="#111" stroke-width="0.9" />
<text x="251.80" y="382" font-size="5.3" text-anchor="end" fill="#262626" >4950</text>
<text x="337.40" y="526" font-size="5.3" text-anchor="middle" fill="#262626" >x/m</text>
<text x="337.40" y="377" font-size="5.7" text-anchor="middle" fill="#111" >expected formation</text>
<text transform="translate(236.80,445.15) rotate(-90)" font-size="5.3" text-anchor="middle" fill="#262626">y/m</text>
<circle cx="267.30" cy="397.30" r="1.6" fill="none" stroke="#4DBEEE" stroke-width="1.15"/>
<circle cx="338.60" cy="397.40" r="1.6" fill="none" stroke="#77AC30" stroke-width="1.15"/>
<circle cx="410.00" cy="397.50" r="1.6" fill="none" stroke="#7E2F8E" stroke-width="1.15"/>
<circle cx="267.30" cy="502.20" r="1.6" fill="none" stroke="#EDB120" stroke-width="1.15"/>
<circle cx="338.60" cy="502.20" r="1.6" fill="none" stroke="#D95319" stroke-width="1.15"/>
<circle cx="410.00" cy="502.20" r="1.6" fill="none" stroke="#1078C2" stroke-width="1.15"/>
<rect x="379.90" y="447.90" width="32.00" height="39.50" fill="#fff" stroke="#111" stroke-width="1.25"/>
<circle cx="388.80" cy="452.00" r="1.6" fill="none" stroke="#1078C2" stroke-width="1.15"/>
<text x="398.00" y="454" font-size="4.7" text-anchor="start" fill="#262626" >UAV1</text>
<circle cx="388.80" cy="458.40" r="1.6" fill="none" stroke="#D95319" stroke-width="1.15"/>
<text x="398.00" y="460" font-size="4.7" text-anchor="start" fill="#262626" >UAV2</text>
<circle cx="388.80" cy="464.60" r="1.6" fill="none" stroke="#EDB120" stroke-width="1.15"/>
<text x="398.00" y="466" font-size="4.7" text-anchor="start" fill="#262626" >UAV3</text>
<circle cx="388.80" cy="471.00" r="1.6" fill="none" stroke="#7E2F8E" stroke-width="1.15"/>
<text x="398.00" y="473" font-size="4.7" text-anchor="start" fill="#262626" >UAV4</text>
<circle cx="388.80" cy="477.10" r="1.6" fill="none" stroke="#77AC30" stroke-width="1.15"/>
<text x="398.00" y="479" font-size="4.7" text-anchor="start" fill="#262626" >UAV5</text>
<circle cx="388.80" cy="483.50" r="1.6" fill="none" stroke="#4DBEEE" stroke-width="1.15"/>
<text x="398.00" y="485" font-size="4.7" text-anchor="start" fill="#262626" >data1</text>
<text x="333.60" y="544.70" font-size="11.6" text-anchor="middle" fill="#111" class="cap">(<tspan font-weight="bold">h</tspan>)</text>
</svg>
</body></html>
